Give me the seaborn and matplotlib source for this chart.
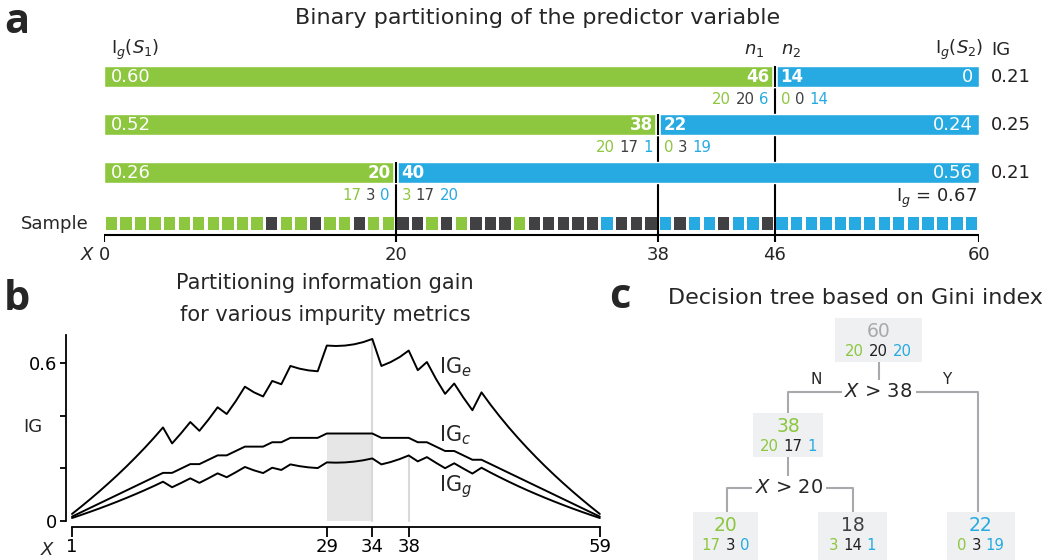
import numpy as np
import pandas as pd
import matplotlib
matplotlib.use('Agg')
import matplotlib.pyplot as plt
import matplotlib.transforms as mtransforms
from matplotlib.patches import Rectangle
import seaborn as sns

sns.set_theme(style='white')
plt.rcParams['font.family'] = ['DejaVu Sans']
plt.rcParams['mathtext.fontset'] = 'dejavusans'

GREEN = '#8DC63F'
BLUE = '#27AAE1'
DARK = '#414042'
BLACK = '#231F20'
LGRAY = '#A7A9AC'

# ---------------- data ----------------
sample = "GGGGGGGGGGGDGGDGGDGG" + "DDGDGDDDGDDDDDBDDD" + "BDBBDBBD" + "BBBBBBBBBBBBBB"
split_points = [46, 38, 20]
left_imp = ['0.60', '0.52', '0.26']
right_imp = ['0', '0.24', '0.56']
gain_vals = ['0.21', '0.25', '0.21']
left_counts = [[20, 20, 6], [20, 17, 1], [17, 3, 0]]
right_counts = [[0, 0, 14], [0, 3, 19], [3, 17, 20]]
a_ticks = [0, 20, 38, 46, 60]

x_b = list(range(1, 60))
ig_e = [0.0268,0.0545,0.0831,0.1127,0.1434,0.1752,0.2083,0.2429,0.2789,0.3167,0.3564,0.2955,0.3349,0.3770,0.3436,0.3865,0.4332,0.4076,0.4568,0.5117,0.4901,0.4744,0.5336,0.5209,0.5906,0.5803,0.5737,0.5704,0.6683,0.6667,0.6683,0.6731,0.6814,0.6934,0.5906,0.6051,0.6243,0.6493,0.5745,0.6056,0.5411,0.4843,0.5238,0.4707,0.4220,0.4900,0.4427,0.3983,0.3564,0.3167,0.2789,0.2429,0.2083,0.1752,0.1434,0.1127,0.0831,0.0545,0.0268]
ig_c = [0.0167,0.0333,0.0500,0.0667,0.0833,0.1000,0.1167,0.1333,0.1500,0.1667,0.1833,0.1833,0.2000,0.2167,0.2167,0.2333,0.2500,0.2500,0.2667,0.2833,0.2833,0.2833,0.3000,0.3000,0.3167,0.3167,0.3167,0.3167,0.3333,0.3333,0.3333,0.3333,0.3333,0.3333,0.3167,0.3167,0.3167,0.3167,0.3000,0.3000,0.2833,0.2667,0.2667,0.2500,0.2333,0.2333,0.2167,0.2000,0.1833,0.1667,0.1500,0.1333,0.1167,0.1000,0.0833,0.0667,0.0500,0.0333,0.0167]
ig_g = [0.0113,0.0230,0.0351,0.0476,0.0606,0.0741,0.0881,0.1026,0.1176,0.1333,0.1497,0.1285,0.1451,0.1625,0.1452,0.1629,0.1815,0.1667,0.1857,0.2058,0.1929,0.1826,0.2029,0.1944,0.2156,0.2089,0.2043,0.2016,0.2232,0.2222,0.2232,0.2262,0.2312,0.2383,0.2156,0.2245,0.2358,0.2496,0.2271,0.2433,0.2217,0.2011,0.2198,0.1998,0.1807,0.2029,0.1844,0.1667,0.1497,0.1333,0.1176,0.1026,0.0881,0.0741,0.0606,0.0476,0.0351,0.0230,0.0113]
b_ticks = [1, 29, 34, 38, 59]

tree_n = ['60', '38', '20', '18', '22']
tree_counts = [[20, 20, 20], [20, 17, 1], [17, 3, 0], [3, 14, 1], [0, 3, 19]]

fig = plt.figure(figsize=(10.5, 5.6), dpi=100)
def fx(px): return px / 1050
def fy(py): return 1 - py / 560
renderer = fig.canvas.get_renderer()

def tokens(ax, x, y, toks, cols, ha='left', size=11, base=None):
    base = ax.transData if base is None else base
    ts, ws = [], []
    for s, c in zip(toks, cols):
        t = ax.text(x, y, s, color=c, size=size, ha='left', va='center', transform=base)
        ts.append(t); ws.append(t.get_window_extent(renderer).width)
    sp = size * 0.318 * 100 / 72
    total = sum(ws) + sp * (len(ts) - 1)
    off = 0 if ha == 'left' else (-total if ha == 'right' else -total / 2)
    for t, w in zip(ts, ws):
        t.set_transform(mtransforms.offset_copy(base, x=off, y=0, units='dots'))
        off += w + sp

# ---------------- panel a ----------------
axA = fig.add_axes([fx(104), fy(270), fx(979) - fx(104), (270 - 30) / 560])
def rv(py): return (py - 76.5) / 48
df_a = pd.DataFrame({'row': ['r0', 'r1', 'r2'], 'total': [60] * 3, 'split': split_points})
sns.barplot(data=df_a, x='total', y='row', orient='h', color=BLUE, saturation=1,
            width=21 / 48, errorbar=None, ax=axA)
sns.barplot(data=df_a, x='split', y='row', orient='h', color=GREEN, saturation=1,
            width=21 / 48, errorbar=None, ax=axA)
axA.set_xlim(0, 60)
axA.set_ylim(rv(270), rv(30))
axA.set_axis_off()

hb = 21 / 48 / 2
for r, s in enumerate(split_points):
    axA.plot([s, s], [r - hb, rv(242)], color='black', lw=1.5, zorder=0.5, solid_capstyle='butt')
    axA.plot([s, s], [r - hb, r + hb], color='white', lw=4, zorder=3, solid_capstyle='butt')
    axA.plot([s, s], [r - hb, r + hb], color='black', lw=1.5, zorder=4, solid_capstyle='butt')
    axA.text(0.45, r, left_imp[r], color='white', size=13, ha='left', va='center', zorder=5)
    axA.text(s - 0.35, r, str(s), color='white', size=12, weight='bold', ha='right', va='center', zorder=5)
    axA.text(s + 0.4, r, str(60 - s), color='white', size=12, weight='bold', ha='left', va='center', zorder=5)
    axA.text(59.6, r, right_imp[r], color='white', size=13, ha='right', va='center', zorder=5)
    axA.text(60.84, r, gain_vals[r], color=BLACK, size=13, ha='left', va='center')
    tokens(axA, s - 0.4, r + 22.5 / 48, [str(v) for v in left_counts[r]], [GREEN, DARK, BLUE], ha='right', size=10.7)
    tokens(axA, s + 0.4, r + 22.5 / 48, [str(v) for v in right_counts[r]], [GREEN, DARK, BLUE], ha='left', size=10.7)

colmap = {'G': GREEN, 'D': DARK, 'B': BLUE}
for i, c in enumerate(sample):
    axA.bar(i + 0.5, 13 / 48, width=0.78, bottom=rv(217), color=colmap[c], linewidth=0)

axA.plot([0, 60], [rv(235), rv(235)], color='black', lw=1.5, solid_capstyle='butt')
for v in [0, 60]:
    axA.plot([v, v], [rv(235), rv(242)], color='black', lw=1.5, solid_capstyle='butt')
for v in a_ticks:
    axA.text(v, rv(255), str(v), size=13, ha='center', va='center')
axA.text(-1.17, rv(255), 'X', size=13, style='italic', ha='center', va='center')
axA.text(-1.03, rv(223.5), 'Sample', size=13, ha='right', va='center')
axA.text(59.9, rv(198), r'$\mathrm{I}_g$ = 0.67', size=13, ha='right', va='center')
axA.text(0.45, rv(50), r'$\mathrm{I}_g(S_1)$', size=13, ha='left', va='center')
axA.text(45.25, rv(50), r'$n_1$', size=13, ha='right', va='center')
axA.text(46.4, rv(50), r'$n_2$', size=13, ha='left', va='center')
axA.text(60.3, rv(50), r'$\mathrm{I}_g(S_2)$', size=13, ha='right', va='center')
axA.text(60.84, rv(50), 'IG', size=13, ha='left', va='center')

fig.text(fx(538), fy(18), 'Binary partitioning of the predictor variable', size=16, ha='center', va='center')
fig.text(fx(4), fy(33), 'a', size=30, weight='bold', family='Open Sans', ha='left', va='baseline')

# ---------------- panel b ----------------
axB = fig.add_axes([fx(66), fy(527), fx(618) - fx(66), (527 - 332) / 560])
df_b = pd.DataFrame({'X': x_b * 3, 'IG': ig_e + ig_c + ig_g,
                     'metric': ['e'] * 59 + ['c'] * 59 + ['g'] * 59})
axB.fill_between(x_b[28:34], 0, ig_c[28:34], color='#E6E6E6', lw=0, zorder=0)
axB.plot([34, 34], [0, ig_e[33]], color='#D9D9D9', lw=1.5, zorder=0.5)
axB.plot([38, 38], [0, ig_g[37]], color='#D9D9D9', lw=1.5, zorder=0.5)
sns.lineplot(data=df_b, x='X', y='IG', hue='metric', palette={'e': 'black', 'c': 'black', 'g': 'black'},
             legend=False, lw=1.4, ax=axB)
axB.set_xlim(0.34, 61)
axB.set_ylim(-0.0229, 0.72)
axB.set_xlabel(''); axB.set_ylabel('')
for sp in ['top', 'right']:
    axB.spines[sp].set_visible(False)
for sp in ['left', 'bottom']:
    axB.spines[sp].set_color('black'); axB.spines[sp].set_linewidth(1.3)
axB.spines['left'].set_bounds(0, 0.709)
axB.spines['bottom'].set_bounds(1, 59)
axB.set_yticks([0, 0.2, 0.4, 0.6]); axB.set_yticklabels(['0', '', '', '0.6'])
axB.set_xticks(b_ticks); axB.set_xticklabels([str(v) for v in b_ticks])
axB.tick_params(axis='y', left=True, direction='out', length=4.3, width=1.3, labelsize=13, pad=2, colors='black')
axB.tick_params(axis='x', bottom=True, direction='out', length=7, width=1.3, labelsize=13, pad=1, colors='black')
axB.set_facecolor('none')
axB.text(41.3, 0.587, r'IG$_e$', size=15, ha='left', va='center')
axB.text(41.3, 0.328, r'IG$_c$', size=15, ha='left', va='center')
axB.text(41.3, 0.13, r'IG$_g$', size=15, ha='left', va='center')
fig.text(fx(33), fy(427), 'IG', size=13, ha='center', va='center')
fig.text(fx(47), fy(550), 'X', size=13, style='italic', ha='center', va='center')
fig.text(fx(325), fy(283), 'Partitioning information gain', size=15, ha='center', va='center')
fig.text(fx(325), fy(315), 'for various impurity metrics', size=15, ha='center', va='center')
fig.text(fx(4), fy(310), 'b', size=30, weight='bold', family='Open Sans', ha='left', va='baseline')

# ---------------- panel c ----------------
axC = fig.add_axes([fx(680), 0, fx(1050) - fx(680), 1 - (300 / 560)])
axC.set_xlim(680, 1050); axC.set_ylim(560, 300); axC.set_axis_off()
boxes = [(835, 318, 87, 44), (753, 413, 70, 44), (693, 512, 65, 48), (818, 512, 69, 48), (947, 512, 68, 48)]
for bx, by, bw, bh in boxes:
    axC.add_patch(Rectangle((bx, by), bw, bh, color='#EEF0F2', lw=0, zorder=0))
segs = [([879, 879], [362, 380]), ([842, 788, 788], [392, 392, 413]), ([916, 978, 978], [392, 392, 512]),
        ([788, 788], [457, 476]), ([752, 727, 727], [488, 488, 512]), ([826, 853, 853], [488, 488, 512])]
for xs, ys in segs:
    axC.plot(xs, ys, color=LGRAY, lw=1.5, solid_capstyle='butt')
tree_cols = [LGRAY, GREEN, GREEN, DARK, BLUE]
for (bx, by, bw, bh), n, c, cnt in zip(boxes, tree_n, tree_cols, tree_counts):
    cx = bx + bw / 2
    axC.text(cx, by + 14, n, color=c, size=13.5, ha='center', va='center')
    tokens(axC, cx, by + 34, [str(v) for v in cnt], [GREEN, BLACK, BLUE], ha='center', size=10.7)
axC.text(878, 392, r'$X$ > 38', size=14, ha='center', va='center')
axC.text(789, 488, r'$X$ > 20', size=14, ha='center', va='center')
axC.text(816, 380, 'N', size=11, ha='center', va='center')
axC.text(947, 380, 'Y', size=11, ha='center', va='center')
fig.text(fx(855), fy(298), 'Decision tree based on Gini index', size=16, ha='center', va='center')
fig.text(fx(609), fy(308), 'c', size=30, weight='bold', family='Open Sans', ha='left', va='baseline')

fig.savefig('out.png', dpi=100)
